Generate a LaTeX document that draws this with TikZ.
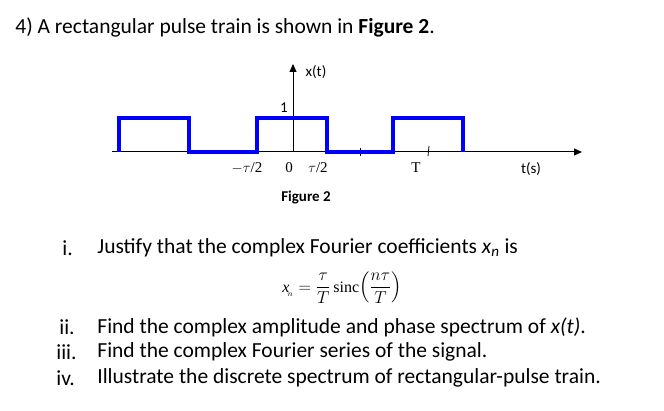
\documentclass[tikz,border=0pt]{standalone}
\usepackage{amsmath}
\usepackage{fontspec}
\setmainfont{Carlito}
\newfontfamily\tms{Liberation Serif}
\usetikzlibrary{arrows.meta}

\begin{document}
\begin{tikzpicture}[x=1pt, y=-1pt, thick]
\tikzstyle{every node}=[inner sep=0pt]
\tikzstyle{txt}=[anchor=west, font=\fontsize{21.5}{24}\selectfont]
\tikzstyle{lbl}=[font=\tms\fontsize{15}{17}\selectfont]
\tikzstyle{sml}=[font=\fontsize{15}{17}\selectfont]
\tikzstyle{pulse}=[draw=blue, line width=3.4pt]
\useasboundingbox (0,0) rectangle (664,411);

% heading and questions
\node[txt] (head) at (15,27) {4)\ A rectangular pulse train is shown in \textbf{Figure 2}.};
\node[txt] (i) at (62,248) {i.};
\node[txt] (ii) at (59,327) {ii.};
\node[txt] (iii) at (56,352) {iii.};
\node[txt] (iv) at (56,378) {iv.};
\node[txt] (qi) at (97,248) {Justify that the complex Fourier coefficients \textit{x}\textsubscript{\textit{n}} is};
\node[txt] (qii) at (97,327) {Find the complex amplitude and phase spectrum of \textit{x(t)}.};
\node[txt] (qiii) at (97,352) {Find the complex Fourier series of the signal.};
\node[txt] (qiv) at (97,378) {Illustrate the discrete spectrum of rectangular-pulse train.};
\node[lbl, font=\tms\fontsize{16}{18}\selectfont] (eq) at (342,288)
  {$\text{\tms\itshape x}_{\!_n}=\dfrac{\tau}{T}\,\text{\tms sinc}\!\left(\dfrac{n\tau}{T}\right)$};

% axes
\coordinate (xs) at (112,152);
\coordinate (xe) at (582,152);
\coordinate (ys) at (293,152);
\coordinate (ye) at (293,64);
\draw[-{Triangle[length=8pt,width=7pt]}, line width=1pt] (xs) -- (xe);
\draw[-{Triangle[length=8pt,width=7pt]}, line width=1pt] (ys) -- (ye);
\draw[line width=0.8pt] (360,148) -- (360,156);
\draw[line width=0.8pt] (429,146) -- (428,156);

% pulse train
\draw[pulse] (119,152) -- (119,118) -- (189,118) -- (189,152) -- (257,152)
  -- (257,118) -- (327,118) -- (327,152) -- (393,152) -- (393,118)
  -- (463,118) -- (463,152);

% labels
\node[sml] (xt) at (316,72) {x(t)};
\node[sml] (one) at (284,108) {1};
\node[lbl] (mt) at (247,168) {$-$$\tau$/2};
\node[lbl] (zero) at (289,168) {0};
\node[lbl] (pt) at (318,168) {$\tau$/2};
\node[lbl] (T) at (416,168) {T};
\node[sml] (ts) at (531,169) {t(s)};
\node[sml, font=\bfseries\fontsize{15}{17}\selectfont] (fig) at (306,198) {Figure 2};
\end{tikzpicture}
\end{document}
